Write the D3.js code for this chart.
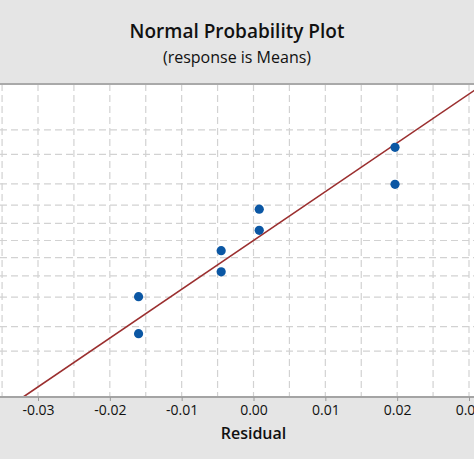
<!DOCTYPE html>
<html>
<head>
<meta charset="utf-8">
<script src="https://cdn.jsdelivr.net/npm/d3@7"></script>
<style>
  body { margin: 0; background: #fff; }
  text { font-family: "Open Sans", "Noto Sans", sans-serif; fill: #111; }
</style>
</head>
<body>
<svg width="474" height="474"></svg>
<script>
// residuals (x) and their plotted percent (y)
const residuals = [-0.016, -0.016, -0.0045, -0.0045, 0.0008, 0.0008, 0.0197, 0.0197];
const percents = [8.3, 20.2, 32.1, 44.0, 56.0, 67.9, 79.8, 91.7];

// fitted normal line: mean and sigma of the residuals
const fitMean = 0;
const fitSigma = 0.01378;

const xTicks = [-0.03, -0.02, -0.01, 0.00, 0.01, 0.02, 0.03];
const xGrid = [-0.035, -0.03, -0.025, -0.02, -0.015, -0.01, -0.005, 0, 0.005, 0.01, 0.015, 0.02, 0.025, 0.03];
const yGrid = [1, 5, 10, 20, 30, 40, 50, 60, 70, 80, 90, 95, 99];

const width = 474;
const plotTop = 84;
const plotBottom = 397;

// inverse normal cdf (Acklam) so the y axis is a probability scale
function probit(p) {
    const a = [-39.69683028665376, 220.9460984245205, -275.9285104469687, 138.3577518672690, -30.66479806614716, 2.506628277459239];
    const b = [-54.47609879822406, 161.5858589980173, -155.6989798598866, 66.80131188771972, -13.28068155288572];
    const c = [-0.007784894002430293, -0.3223964580411365, -2.400758277161838, -2.549732539343734, 4.374664141464968, 2.938163982698783];
    const d = [0.007784695709041462, 0.3224671290700398, 2.445134137142996, 3.754408661907416];
    const pl = 0.02425;
    let q, r;
    if (p < pl) {
        q = Math.sqrt(-2 * Math.log(p));
        return (((((c[0]*q+c[1])*q+c[2])*q+c[3])*q+c[4])*q+c[5]) / ((((d[0]*q+d[1])*q+d[2])*q+d[3])*q+1);
    }
    if (p > 1 - pl) {
        q = Math.sqrt(-2 * Math.log(1 - p));
        return -(((((c[0]*q+c[1])*q+c[2])*q+c[3])*q+c[4])*q+c[5]) / ((((d[0]*q+d[1])*q+d[2])*q+d[3])*q+1);
    }
    q = p - 0.5;
    r = q * q;
    return (((((a[0]*r+a[1])*r+a[2])*r+a[3])*r+a[4])*r+a[5])*q / (((((b[0]*r+b[1])*r+b[2])*r+b[3])*r+b[4])*r+1);
}

const svg = d3.select('svg');

const xScale = d3.scaleLinear()
    .domain([-0.03, 0.03])
    .range([38, 469]);

const zScale = d3.scaleLinear()
    .domain([probit(0.01), probit(0.99)])
    .range([plotBottom, plotTop]);
const yScale = p => zScale(probit(p / 100));

// grey panels above and below the plot
svg.append('rect').attr('x', 0).attr('y', 0).attr('width', width).attr('height', plotTop).attr('fill', '#e5e5e5');
svg.append('rect').attr('x', 0).attr('y', plotBottom).attr('width', width).attr('height', 62).attr('fill', '#e5e5e5');

// grid
svg.append('g')
    .selectAll('line')
    .data(xGrid)
    .join('line')
    .attr('x1', d => xScale(d))
    .attr('x2', d => xScale(d))
    .attr('y1', plotTop)
    .attr('y2', plotBottom)
    .attr('stroke', '#d2d2d2')
    .attr('stroke-width', 1.2)
    .attr('stroke-dasharray', '7,4');

svg.append('g')
    .selectAll('line')
    .data(yGrid)
    .join('line')
    .attr('x1', 0)
    .attr('x2', width)
    .attr('y1', d => yScale(d))
    .attr('y2', d => yScale(d))
    .attr('stroke', '#d2d2d2')
    .attr('stroke-width', 1.2)
    .attr('stroke-dasharray', '7,4');

// fitted line
const fitLine = d3.line()
    .x(d => xScale(fitMean + d * fitSigma))
    .y(d => zScale(d));

svg.append('defs').append('clipPath').attr('id', 'plot')
    .append('rect').attr('x', 0).attr('y', plotTop).attr('width', width).attr('height', plotBottom - plotTop);

svg.append('path')
    .datum([probit(0.01), probit(0.999)])
    .attr('clip-path', 'url(#plot)')
    .attr('fill', 'none')
    .attr('stroke', '#9b2f2f')
    .attr('stroke-width', 1.6)
    .attr('d', fitLine);

// points
svg.append('g')
    .selectAll('circle')
    .data(residuals)
    .join('circle')
    .attr('cx', d => xScale(d))
    .attr('cy', (d, i) => yScale(percents[i]))
    .attr('r', 4.6)
    .attr('fill', '#0b57a4');

// frame line on top
svg.append('line').attr('x1', 0).attr('x2', width).attr('y1', plotTop).attr('y2', plotTop)
    .attr('stroke', '#a9a9a9').attr('stroke-width', 2);

// x-axis (the last label is cut by the right edge, as in the original)
const xAxis = svg.append('g')
    .attr('transform', `translate(0, ${plotBottom})`)
    .call(d3.axisBottom(xScale).tickValues(xTicks).tickFormat(d3.format('.2f')).tickSize(4).tickPadding(4));
xAxis.select('.domain').attr('stroke', '#a4a4a4').attr('stroke-width', 2).attr('d', `M0,0H${width}`);
xAxis.selectAll('.tick line').attr('stroke', '#999');
xAxis.selectAll('.tick text')
    .text(d => d3.format('.2f')(d).replace('−', '-'))
    .attr('font-size', 14)
    .attr('fill', '#111')
    .style('font-family', '"Open Sans", sans-serif');

svg.append('text')
    .attr('x', xScale(0))
    .attr('y', 439)
    .attr('text-anchor', 'middle')
    .attr('font-size', 16)
    .attr('font-weight', 600)
    .text('Residual');

// title
svg.append('text')
    .attr('x', 237)
    .attr('y', 38)
    .attr('text-anchor', 'middle')
    .attr('font-size', 19)
    .attr('font-weight', 600)
    .text('Normal Probability Plot');

svg.append('text')
    .attr('x', 237)
    .attr('y', 63)
    .attr('text-anchor', 'middle')
    .attr('font-size', 16)
    .text('(response is Means)');
</script>
</body>
</html>
